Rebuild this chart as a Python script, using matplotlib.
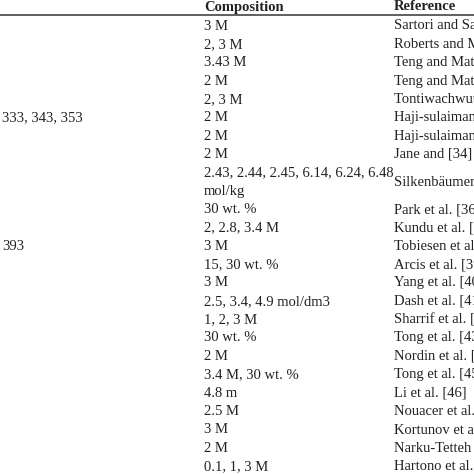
import matplotlib
matplotlib.use("Agg")
import matplotlib.pyplot as plt

temps = ["", "", "", "", "", "333, 343, 353", "", "", "", "", "", "393", "", "", "", "", "", "", "", "", "", "", "", ""]
compositions = ["3 M", "2, 3 M", "3.43 M", "2 M", "2, 3 M", "2 M", "2 M", "2 M",
                "2.43, 2.44, 2.45, 6.14, 6.24, 6.48\nmol/kg", "30 wt. %", "2, 2.8, 3.4 M",
                "3 M", "15, 30 wt. %", "3 M", "2.5, 3.4, 4.9 mol/dm3", "1, 2, 3 M", "30 wt. %",
                "2 M", "3.4 M, 30 wt. %", "4.8 m", "2.5 M", "3 M", "2 M", "0.1, 1, 3 M"]
references = ["Sartori and Savage [25]", "Roberts and Mather [26]", "Teng and Mather [27]",
              "Teng and Mather [28]", "Tontiwachwuthikul [29]", "Haji-sulaiman [30]",
              "Haji-sulaiman [31]", "Jane and [34]", "Silkenbäumer et al. [35]",
              "Park et al. [36]", "Kundu et al. [37]", "Tobiesen et al. [38]",
              "Arcis et al. [39]", "Yang et al. [40]", "Dash et al. [41]", "Sharrif et al. [42]",
              "Tong et al. [43]", "Nordin et al. [44]", "Tong et al. [45]", "Li et al. [46]",
              "Nouacer et al. [47]", "Kortunov et al. [48]", "Narku-Tetteh et al. [49]",
              "Hartono et al. [50]"]

W = H = 474
fig = plt.figure(figsize=(4.74, 4.74), dpi=100)
fig.patch.set_facecolor("white")
font = dict(family="Liberation Serif", fontsize=10.5, color="#222222")

def fy(py):
    return 1 - py / H

def put(x, yc, s, **kw):
    fig.text(x / W, fy(yc + 4.5), s, va="baseline", ha="left", **font, **kw)

put(204, 6, "Composition", fontweight="bold")
put(394, 6, "Reference", fontweight="bold")
fig.add_artist(plt.Line2D([0, 1], [fy(14.5), fy(14.5)], color="#444444", lw=1.2))

y = 25.0
step = 18.35
for t, c, r in zip(temps, compositions, references):
    if "\n" in c:
        l1, l2 = c.split("\n")
        put(204, y, l1)
        put(204, y + step, l2)
        yc = y + step / 2
        y += 2 * step
    else:
        put(204, y, c)
        yc = y
        y += step
    put(394, yc, r)
    if t:
        put(2, yc, t)

fig.savefig("out.png", dpi=100, facecolor="white")
